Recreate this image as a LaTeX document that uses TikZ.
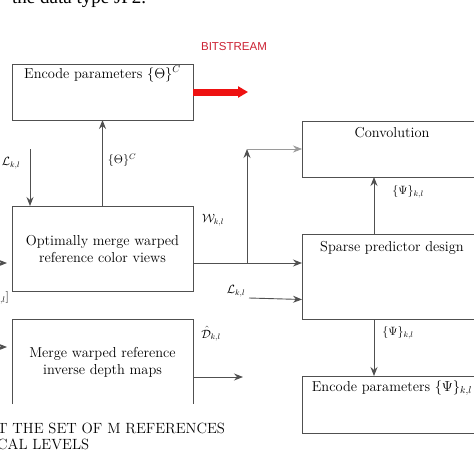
\documentclass[tikz,border=0pt]{standalone}
\usepackage{fontspec}
\newfontfamily\timesf{Liberation Serif}
\newfontfamily\arialf{Liberation Sans}
\usetikzlibrary{arrows.meta,calc}
\definecolor{linegray}{HTML}{505050}
\definecolor{lightline}{HTML}{9A9A9A}
\definecolor{bsred}{HTML}{EE1111}
\definecolor{bstext}{HTML}{CC2233}
\begin{document}
\begin{tikzpicture}[x=1pt,y=-1pt,
  box/.style={draw=linegray, line width=0.9pt, minimum width=181pt, inner sep=0pt, outer sep=0pt},
  boxline/.style={draw=linegray, line width=0.9pt},
  arr/.style={draw=linegray, line width=0.9pt, -{Stealth[length=9pt,width=7pt,inset=3pt]}},
  arrthin/.style={draw=lightline, line width=0.6pt, -{Stealth[length=9pt,width=7pt,inset=3pt]}},
  lbl/.style={font=\fontsize{12}{14}\selectfont, inner sep=0pt},
  btxt/.style={font=\fontsize{14.4}{17.3}\selectfont, align=center, inner sep=0pt},
  captxt/.style={font=\fontsize{14.8}{16}\selectfont, inner sep=0pt, anchor=base west}]
\useasboundingbox (0,0) rectangle (474,474);
\clip (0,0) rectangle (474,474);
\fill[white] (0,0) rectangle (474,474);

% surrounding page text
\node[anchor=base west, inner sep=0pt, font=\timesf\fontsize{19}{22}\selectfont] (toptext) at (12,3) {the data type JP2.};
\node[captxt] (cap1) at (-3,433) {T THE SET OF M REFERENCES};
\node[captxt] (cap2) at (-3,449) {CAL LEVELS};

% boxes
\node[box, minimum height=56pt] (encT) at (102.5,92) {};
\node[box, minimum height=85pt] (merge) at (102.5,248.5) {};
\node[box, minimum height=56pt] (conv) at (392.5,149) {};
\node[box, minimum height=85pt] (sparse) at (392.5,276.5) {};
\node[box, minimum height=57pt] (encP) at (392.5,404.5) {};
\coordinate (d1) at (12,404);
\coordinate (d2) at (12,319);
\coordinate (d3) at (193,319);
\coordinate (d4) at (193,404);
\draw[boxline] (d1) -- (d2) -- (d3) -- (d4);

% box texts
\node[btxt, anchor=base] (encTt) at (102.5,78) {Encode parameters $\{\Theta\}^C$};
\node[btxt] (mergetxt) at (102.5,249) {Optimally merge warped\\reference color views};
\node[btxt] (depthtxt) at (102.5,362) {Merge warped reference\\inverse depth maps};
\node[btxt, anchor=base] (convt) at (392,137) {Convolution};
\node[btxt, anchor=base] (sparset) at (392,251) {Sparse predictor design};
\node[btxt, anchor=base] (encPt) at (392,391) {Encode parameters $\{\Psi\}_{k,l}$};

% bitstream
\node[font=\arialf\fontsize{11.5}{13}\selectfont, text=bstext, inner sep=0pt] (bst) at (234,47) {BITSTREAM};
\coordinate (bsend) at (248,92);
\draw[bsred, line width=7pt, -{Triangle[length=10pt,width=11pt]}] (encT.east) -- (bsend);

% connectors left column
\draw[arr] (merge.north) -- (encT.south);
\node[lbl] (thetal) at (122,160) {$\{\Theta\}^C$};
\coordinate (Ltop) at (30,149);
\draw[arr] (Ltop) -- (Ltop |- merge.north);
\node[lbl] (L1) at (11,163) {$\mathcal{L}_{k,l}$};

\coordinate (in1) at (-6,263);
\coordinate (in1e) at (7,263);
\draw[arr] (in1) -- (in1e);
\coordinate (in2) at (-6,347);
\coordinate (in2e) at (7,347);
\draw[arr] (in2) -- (in2e);
\node[lbl, anchor=east] (kl) at (9,298) {$_{k,l}]$};

% W output
\coordinate (wy) at (0,263);
\draw[arr] (merge.east |- wy) -- (sparse.west |- wy);
\node[lbl] (Wl) at (213,220) {$\mathcal{W}_{k,l}$};
\coordinate (br) at (247,263);
\coordinate (brtop) at (247,149);
\draw[arr] (br) -- (brtop);
\draw[arrthin] (brtop) -- (conv.west);

% L into sparse
\coordinate (L2) at (249,298);
\draw[arr] (L2) -- ($(sparse.west)+(0,23)$);
\node[lbl] (L2l) at (236,291) {$\mathcal{L}_{k,l}$};

% psi connectors
\coordinate (px) at (374,0);
\draw[arr] (px |- sparse.north) -- (px |- conv.south);
\draw[arr] (px |- sparse.south) -- (px |- encP.north);
\node[lbl] (psi1) at (408,192) {$\{\Psi\}_{k,l}$};
\node[lbl] (psi2) at (398,333) {$\{\Psi\}_{k,l}$};

% depth output
\coordinate (dout) at (193,377);
\coordinate (dend) at (243,377);
\draw[arr] (dout) -- (dend);
\node[lbl] (Dl) at (211,334) {$\hat{\mathcal{D}}_{k,l}$};
\end{tikzpicture}
\end{document}
